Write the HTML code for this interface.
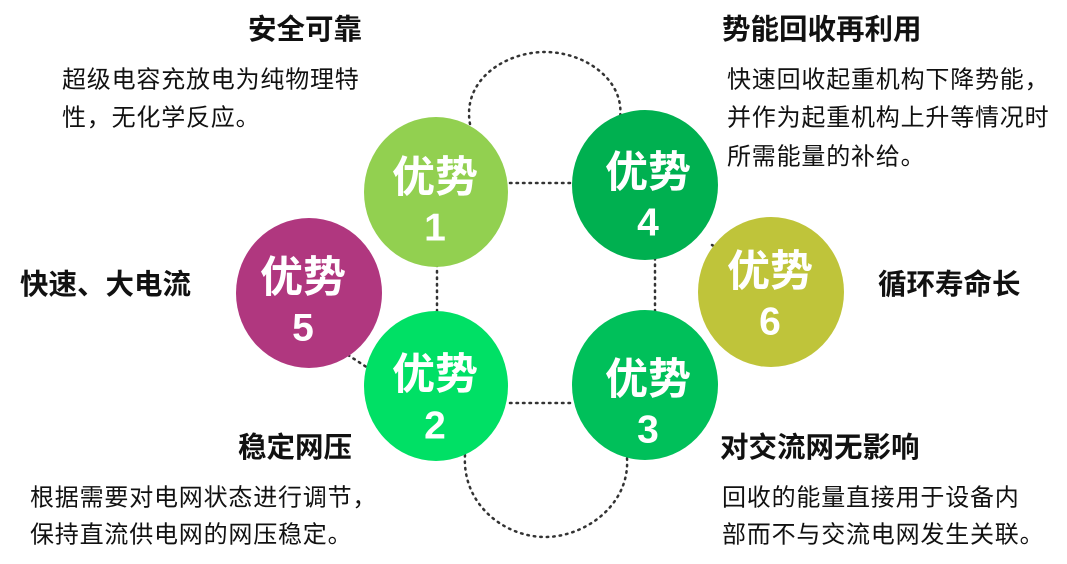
<!DOCTYPE html>
<html><head><meta charset="utf-8"><style>
html,body{margin:0;padding:0;background:#fff;width:1067px;height:564px;overflow:hidden}
svg text{font-family:"Liberation Sans","Noto Sans CJK SC",sans-serif}
.t{font-size:28.5px;font-weight:bold;fill:#111}
.b{font-size:24px;fill:#111;letter-spacing:0.8px}
.c1{font-size:43px;font-weight:bold;fill:#fff}
.c2{font-size:39px;font-weight:bold;fill:#fff}
</style></head><body>
<svg width="1067" height="564" viewBox="0 0 1067 564" xmlns="http://www.w3.org/2000/svg">
<g fill="none" stroke="#333" stroke-width="2.5" stroke-dasharray="1.5 5" stroke-linecap="round">
<path d="M470,124 C462,80 505,52 545,52 C585,52 625,80 620,118"/>
<path d="M465,455 C462,505 505,537 545,537 C585,537 630,505 627,458"/>
<line x1="510" y1="183" x2="570" y2="183"/>
<line x1="510" y1="403" x2="570" y2="403"/>
<line x1="437" y1="258" x2="437" y2="313"/>
<line x1="655" y1="258" x2="655" y2="312"/>
<line x1="350" y1="262" x2="370" y2="250"/>
<line x1="348" y1="355" x2="368" y2="368"/>
<line x1="712" y1="245" x2="735" y2="258"/>
<line x1="718" y1="335" x2="740" y2="323"/>
</g>
<ellipse cx="436" cy="192" rx="72" ry="75" fill="#92D050"/>
<ellipse cx="645" cy="185" rx="73" ry="75" fill="#00B050"/>
<ellipse cx="309" cy="293" rx="73" ry="75" fill="#B0377F"/>
<ellipse cx="771" cy="292" rx="73" ry="75" fill="#BFC43A"/>
<ellipse cx="436" cy="386" rx="72" ry="75" fill="#00E065"/>
<ellipse cx="645" cy="385" rx="73" ry="75" fill="#00C05A"/>
<g text-anchor="middle" dominant-baseline="central">
<text class="c1" x="435" y="178">优势</text><text class="c2" x="435" y="228">1</text>
<text class="c1" x="648" y="173">优势</text><text class="c2" x="648" y="223">4</text>
<text class="c1" x="303" y="278">优势</text><text class="c2" x="303" y="328">5</text>
<text class="c1" x="770" y="272">优势</text><text class="c2" x="770" y="322">6</text>
<text class="c1" x="435" y="375">优势</text><text class="c2" x="435" y="426">2</text>
<text class="c1" x="648" y="380">优势</text><text class="c2" x="648" y="430">3</text>
</g>
<g dominant-baseline="central">
<text class="t" x="248" y="30">安全可靠</text>
<text class="b" x="62" y="80">超级电容充放电为纯物理特</text>
<text class="b" x="62" y="118">性，无化学反应。</text>
<text class="t" x="722" y="30">势能回收再利用</text>
<text class="b" x="727" y="80">快速回收起重机构下降势能，</text>
<text class="b" x="727" y="118">并作为起重机构上升等情况时</text>
<text class="b" x="727" y="157">所需能量的补给。</text>
<text class="t" x="20" y="285">快速、大电流</text>
<text class="t" x="878" y="285">循环寿命长</text>
<text class="t" x="238" y="448">稳定网压</text>
<text class="b" x="30" y="498">根据需要对电网状态进行调节，</text>
<text class="b" x="30" y="535">保持直流供电网的网压稳定。</text>
<text class="t" x="720" y="448">对交流网无影响</text>
<text class="b" x="722" y="498">回收的能量直接用于设备内</text>
<text class="b" x="722" y="535">部而不与交流电网发生关联。</text>
</g>
</svg>
</body></html>
